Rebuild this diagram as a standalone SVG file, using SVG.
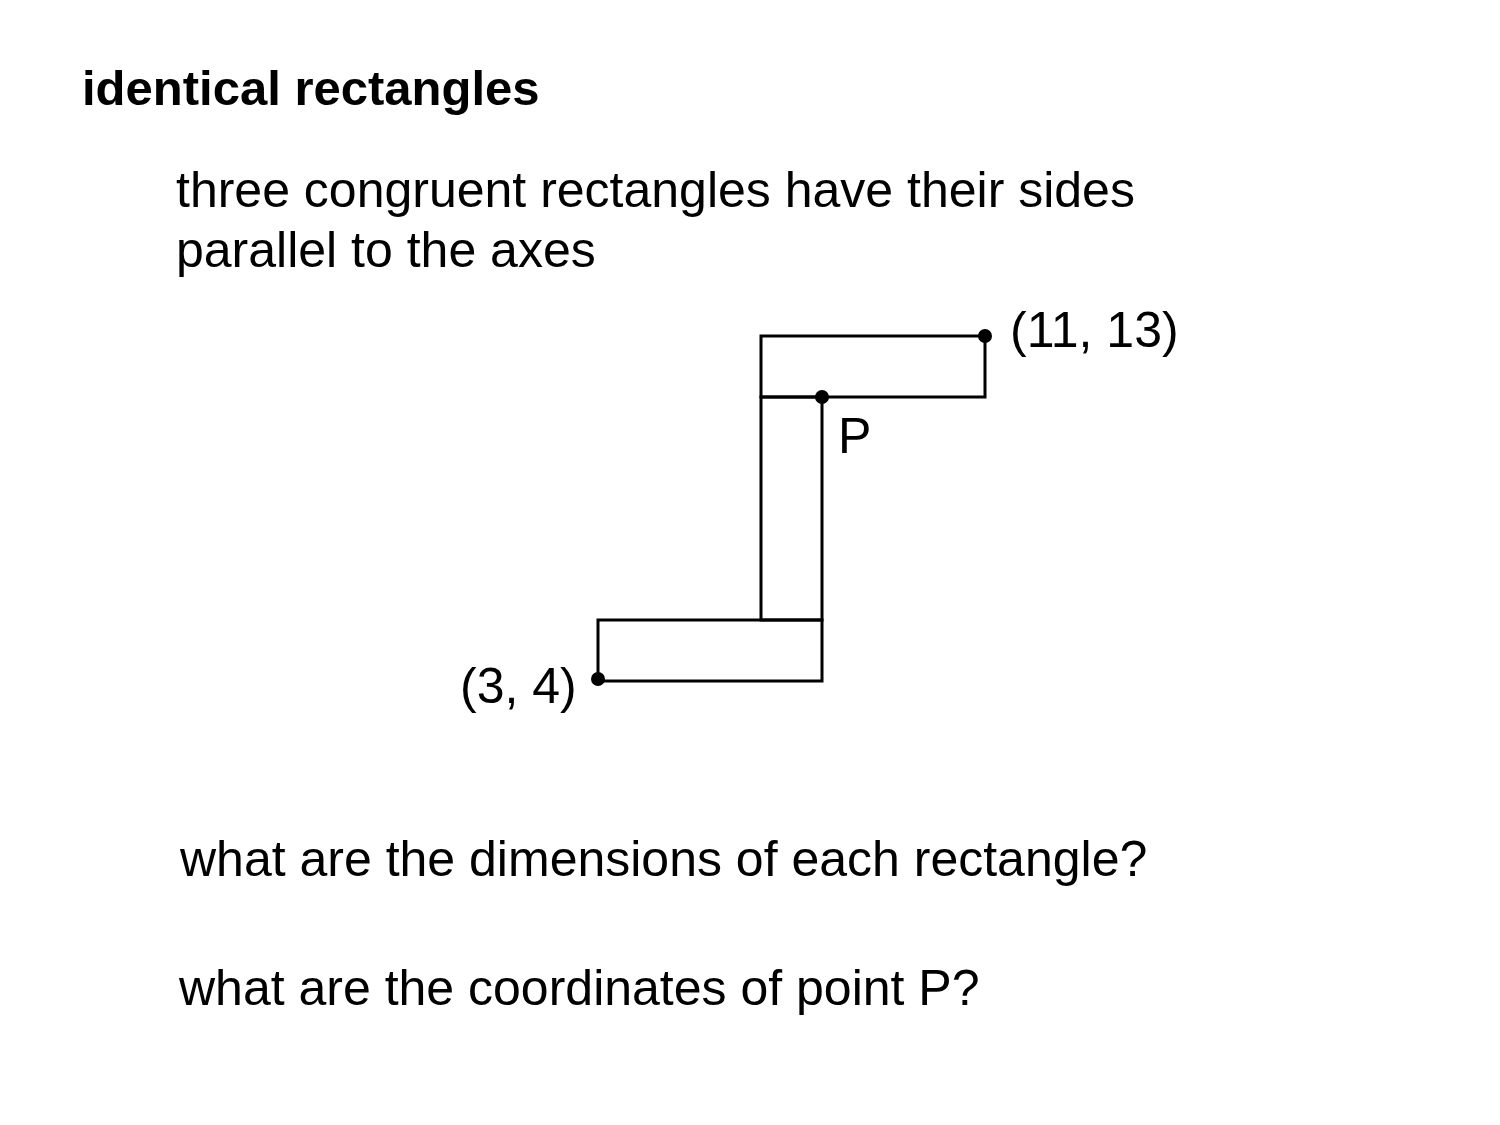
<svg xmlns="http://www.w3.org/2000/svg" width="1500" height="1125" viewBox="0 0 1500 1125">
<style>
text{font-family:"Liberation Sans",Arial,sans-serif;font-size:50px;fill:#000}
.t{font-weight:bold;font-size:49px}
.r{fill:none;stroke:#000;stroke-width:3}
</style>
<rect width="1500" height="1125" fill="#fff"/>
<text class="t" x="82" y="105">identical rectangles</text>
<text x="176" y="207">three congruent rectangles have their sides</text>
<text x="176" y="267">parallel to the axes</text>
<g id="rect-top"><rect class="r" x="761" y="336" width="224" height="61"/></g>
<g id="rect-mid"><rect class="r" x="761" y="397" width="61" height="223"/></g>
<g id="rect-bottom"><rect class="r" x="598" y="620" width="224" height="61"/></g>
<g id="pt-a"><circle cx="985" cy="336" r="7"/><text x="1010" y="347">(11, 13)</text></g>
<g id="pt-p"><circle cx="822" cy="397" r="7"/><text x="838" y="453">P</text></g>
<g id="pt-b"><circle cx="598" cy="679" r="7"/><text x="460" y="703">(3, 4)</text></g>
<text x="180" y="876">what are the dimensions of each rectangle?</text>
<text x="179" y="1005">what are the coordinates of point P?</text>
</svg>
